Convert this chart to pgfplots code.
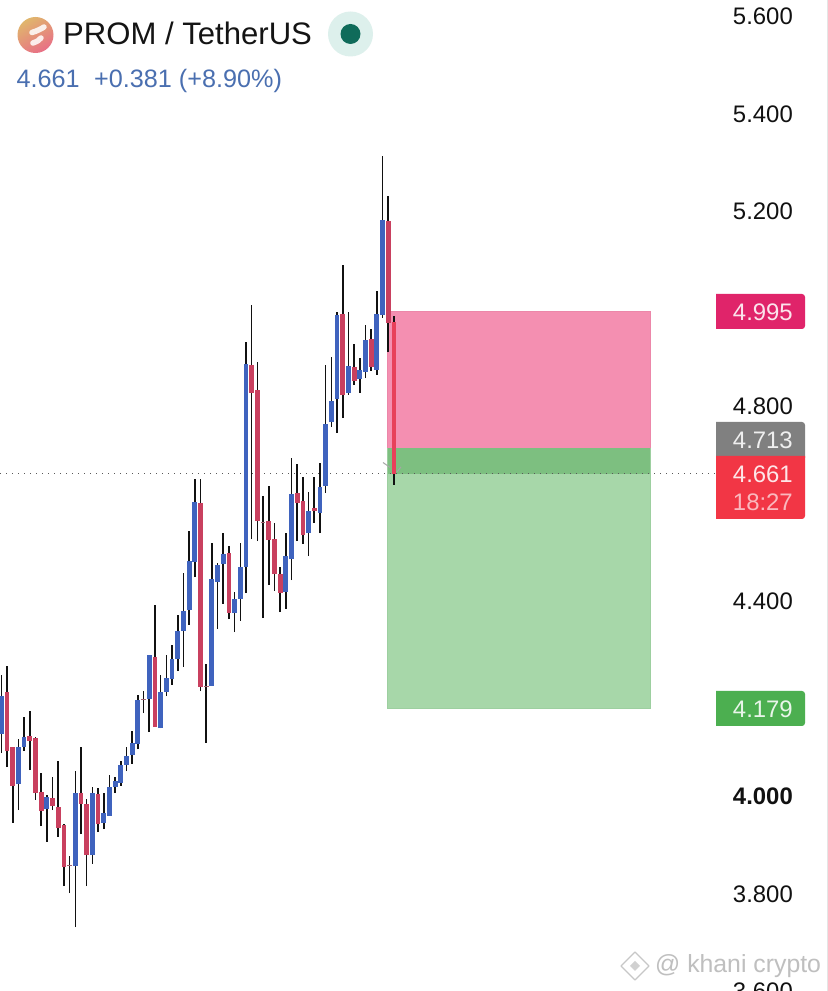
\documentclass[border=0pt]{standalone}
\usepackage{pgfplots}
\usepackage{pgfplotstable}
\pgfplotsset{compat=1.18}
\usepackage{fontspec}
\setmainfont{Liberation Sans}
\definecolor{upc}{HTML}{3F63BE}
\definecolor{dnc}{HTML}{C9405F}
\definecolor{lastc}{HTML}{E8405A}
\definecolor{wick}{HTML}{111111}
\definecolor{pinkz}{HTML}{F48FB1}
\definecolor{pinkb}{HTML}{EC87A9}
\definecolor{greenz}{HTML}{A7D7A9}
\definecolor{greenb}{HTML}{9DCFA0}
\definecolor{greend}{HTML}{7DBF80}
\definecolor{subc}{HTML}{4A6FB0}
\definecolor{lb1}{HTML}{E0246A}
\definecolor{lb2}{HTML}{808080}
\definecolor{lb3}{HTML}{F23645}
\definecolor{lb4}{HTML}{4CAF50}
\definecolor{logoa}{HTML}{E0B66C}
\definecolor{logob}{HTML}{E86F86}
\definecolor{dotbg}{HTML}{DDF0EC}
\definecolor{dotfg}{HTML}{0F6B5A}
\pgfplotstableread{
i high low open close
0 4.248 4.088 4.127 4.205
3 4.117 3.971 4.025 4.101
4 4.162 4.092 4.101 4.121
8 4.002 3.906 3.973 3.998
13 4.051 3.731 3.856 4.006
16 4.018 3.861 3.879 4.006
18 4.006 3.932 3.945 3.965
19 4.043 3.959 3.959 4.018
20 4.039 4.006 4.018 4.031
21 4.072 4.021 4.027 4.064
22 4.101 4.051 4.064 4.082
23 4.133 4.066 4.084 4.109
24 4.207 4.096 4.107 4.197
26 4.289 4.131 4.199 4.289
28 4.248 4.139 4.139 4.213
29 4.289 4.205 4.213 4.242
30 4.310 4.228 4.240 4.281
31 4.371 4.256 4.281 4.338
32 4.457 4.265 4.338 4.379
33 4.544 4.351 4.382 4.482
34 4.650 4.449 4.480 4.603
37 4.519 4.226 4.226 4.445
38 4.478 4.343 4.439 4.474
39 4.539 4.394 4.476 4.496
41 4.418 4.336 4.375 4.404
42 4.519 4.359 4.404 4.470
43 4.931 4.416 4.470 4.886
50 4.539 4.384 4.418 4.492
51 4.693 4.443 4.486 4.619
54 4.624 4.492 4.539 4.585
56 4.683 4.539 4.581 4.634
57 4.884 4.622 4.636 4.763
58 4.901 4.757 4.767 4.810
59 4.993 4.745 4.814 4.987
61 4.993 4.823 4.827 4.882
63 4.898 4.827 4.855 4.874
64 4.966 4.857 4.870 4.935
66 5.036 4.864 4.874 4.989
67 5.313 4.981 4.987 5.182
}\upcandles
\pgfplotstableread{
i high low open close
1 4.267 4.059 4.213 4.092
2 4.101 3.945 4.101 4.021
5 4.174 4.053 4.123 4.113
6 4.121 3.992 4.119 4.006
7 4.047 3.938 4.008 3.969
9 4.039 3.971 3.996 3.979
10 4.072 3.916 3.977 3.934
11 3.943 3.815 3.941 3.854
14 4.101 3.922 4.006 3.984
15 3.994 3.815 3.984 3.879
17 4.016 3.926 4.004 3.943
27 4.392 4.142 4.285 4.142
35 4.650 4.215 4.601 4.224
40 4.513 4.363 4.498 4.375
44 5.007 4.527 4.884 4.827
45 4.890 4.523 4.833 4.564
47 4.636 4.433 4.564 4.525
48 4.560 4.421 4.527 4.455
49 4.470 4.377 4.455 4.416
52 4.681 4.523 4.622 4.601
53 4.654 4.517 4.605 4.535
55 4.654 4.560 4.591 4.585
60 5.089 4.775 4.989 4.823
62 4.927 4.843 4.880 4.851
65 4.958 4.872 4.937 4.880
68 5.231 4.911 5.179 4.970
}\downcandles
\pgfplotstableread{
i high low open close
12 3.877 3.801 3.858 3.856
25 4.215 4.170 4.199 4.197
36 4.271 4.109 4.226 4.224
46 4.615 4.365 4.562 4.560
}\dojicandles
\pgfplotstableread{
i high low open close
69 4.985 4.638 4.972 4.661
}\lastcandle
\pgfplotsset{
  wickplot/.style={draw=none,no markers,error bars/.cd,y dir=plus,y explicit,error mark=none,
    error bar style={draw=wick,line width=1.6bp}},
  bodyplot/.style={draw=none,no markers,error bars/.cd,y dir=plus,y explicit,error mark=none,
    error bar style={draw=#1,line width=4.8bp}},
}
\begin{document}
\begin{tikzpicture}
\path[use as bounding box] (0,0) rectangle (828bp,991bp);
\clip (0,0) rectangle (828bp,991bp);
\fill[white] (0,0) rectangle (828bp,991bp);
\begin{axis}[
  at={(0,0)},anchor=south west,
  scale only axis,width=828bp,height=991bp,
  xmin=-0.234,xmax=145.285,ymin=3.6,ymax=5.6328,
  axis line style={draw=none},
  major tick length=0pt,
  xtick=\empty,
  ytick={3.6,3.8,4.0,4.4,4.8,5.2,5.4,5.6},
  yticklabels={3.600,3.800,\textbf{4.000},4.400,4.800,5.200,5.400,5.600},
  yticklabel pos=right,
  yticklabel style={anchor=east,xshift=-35bp,yshift=-0.7bp,inner sep=0pt,font=\fontsize{24}{26}\selectfont,text=wick},
  clip=true,
]
% position zones
\addplot[fill=pinkz,draw=pinkb,line width=0.6bp] coordinates {(67.87,4.713)(114,4.713)(114,4.995)(67.87,4.995)} --cycle;
\addplot[fill=greenz,draw=greenb,line width=0.6bp] coordinates {(67.87,4.179)(114,4.179)(114,4.713)(67.87,4.713)} --cycle;
\addplot[fill=greend,draw=none] coordinates {(67.87,4.661)(114,4.661)(114,4.713)(67.87,4.713)} --cycle;
% price line
\addplot[color=black!65,line width=1.4bp,dash pattern=on 1.4bp off 4.6bp] coordinates {(-0.234,4.661)(125.6,4.661)};
% chevron
\addplot[color=gray!70,line width=1bp] coordinates {(67.08,4.684)(68.31,4.674)};
\addplot[color=gray!70,line width=1bp] coordinates {(69.54,4.665)(70.24,4.675)};
% wicks
\addplot[wickplot] table[x=i,y=low,y error expr=\thisrow{high}-\thisrow{low}] {\upcandles};
\addplot[wickplot] table[x=i,y=low,y error expr=\thisrow{high}-\thisrow{low}] {\downcandles};
\addplot[wickplot] table[x=i,y=low,y error expr=\thisrow{high}-\thisrow{low}] {\dojicandles};
\addplot[wickplot] table[x=i,y=low,y error expr=\thisrow{high}-\thisrow{low}] {\lastcandle};
% bodies
\addplot[bodyplot=upc] table[x=i,y=open,y error expr=\thisrow{close}-\thisrow{open}] {\upcandles};
\addplot[bodyplot=dnc] table[x=i,y=close,y error expr=\thisrow{open}-\thisrow{close}] {\downcandles};
\addplot[bodyplot=dnc!45!gray] table[x=i,y=close,y error expr=\thisrow{open}-\thisrow{close}] {\dojicandles};
\addplot[bodyplot=lastc] table[x=i,y=close,y error expr=\thisrow{open}-\thisrow{close}] {\lastcandle};
\end{axis}
\begin{scope}[x=1bp,y=-1bp,yshift=991bp]
\draw[black!10,line width=0.8bp] (827.3,0) -- (827.3,991);
% right-hand labels
\fill[lb1] (716,294) [rounded corners=3bp] -- (805,294) -- (805,329) [sharp corners] -- (716,329) -- cycle;
\fill[lb2] (716,422) [rounded corners=3bp] -- (805,422) [sharp corners] -- (805,458) -- (716,458) -- cycle;
\fill[lb3] (716,456) -- (805,456) [rounded corners=3bp] -- (805,519) [sharp corners] -- (716,519) -- cycle;
\fill[lb4] (716,691) [rounded corners=3bp] -- (805,691) -- (805,726) [sharp corners] -- (716,726) -- cycle;
\tikzset{lab/.style={anchor=east,inner sep=0pt,text=white,font=\fontsize{24}{26}\selectfont}}
\node[lab,text opacity=.88] at (793,312) {4.995};
\node[lab,text opacity=.88] at (793,440) {4.713};
\node[lab,text opacity=.88] at (793,474.5) {4.661};
\node[lab,text opacity=.65] at (793,502.5) {18:27};
\node[lab,text opacity=.88] at (793,709) {4.179};
% header
\shade[left color=logoa,right color=logob,shading angle=30] (35.5,35) circle (18);
\draw[white,opacity=.85,line width=5.5bp,line cap=round] (32,32.5) .. controls (37,31) and (41,29) .. (44,27);
\draw[white,opacity=.85,line width=5.5bp,line cap=round] (33,43) .. controls (37,41.5) and (39,40.5) .. (41,38);
\node[anchor=base west,inner sep=0pt,text=black!92,font=\fontsize{31.2}{33}\selectfont] at (63,44.5) {PROM / TetherUS};
\fill[dotbg] (350.5,34) circle (22.5);
\fill[dotfg] (350.5,34) circle (10);
\node[anchor=base west,inner sep=0pt,text=subc,font=\fontsize{25.3}{27}\selectfont] at (16.5,88) {4.661};
\node[anchor=base west,inner sep=0pt,text=subc,font=\fontsize{25.3}{27}\selectfont] at (94,88) {+0.381 (+8.90\%)};
% watermark
\draw[black!22,line width=1.3bp,line join=round] (635,952) -- (649,966) -- (635,980) -- (621,966) -- cycle;
\fill[black!18] (635,961) -- (640,966) -- (635,971) -- (630,966) -- cycle;
\node[anchor=west,inner sep=0pt,text=black!25,font=\fontsize{24.9}{27}\selectfont] at (655,966) {@ khani crypto};
\end{scope}
\end{tikzpicture}
\end{document}
